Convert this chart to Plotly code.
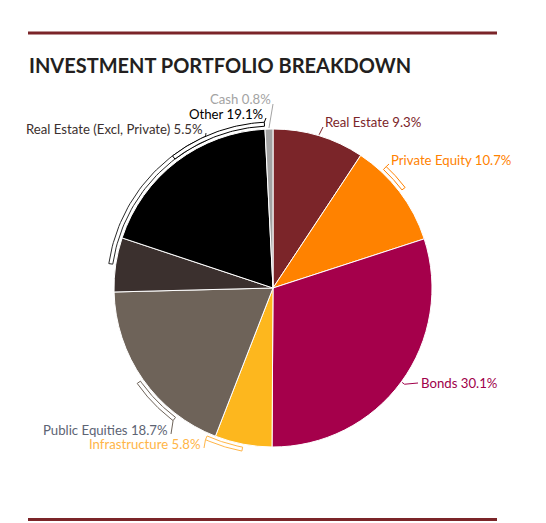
import numpy as np
import plotly.graph_objects as go

# data (clockwise from 12 o'clock)
categories = ["Real Estate", "Private Equity", "Bonds", "Infrastructure",
              "Public Equities", "Real Estate (Excl, Private)", "Other", "Cash"]
shares = [9.3, 10.7, 30.1, 5.8, 18.7, 5.5, 19.1, 0.8]

# styling
slice_colors = ["#7b2529", "#ff8200", "#a5004b", "#fdb71e",
                "#6e6359", "#3b302e", "#000000", "#a3a3a3"]
label_colors = ["#7b2529", "#ff8200", "#a0004a", "#ffb547",
                "#5d6474", "#3b302e", "#000000", "#a3a3a3"]
line_colors = ["#7b2529", "#ff8200", "#a0004a", "#ffb547",
               "#6e6359", "#2b2b2b", "#000000", "#a3a3a3"]
# label placement in pixels (anchor x, y, side) and where each bracket ends (deg)
label_pos = [(323, 122, "left"), (389, 160, "left"), (419, 383, "left"),
             (203, 444, "right"), (170, 430, "right"), (205, 129, "right"),
             (265, 114, "right"), (273, 99, "right")]
bracket_end = [None, 43, None, 204, 217, 336, 357, None]

W, H = 546, 523
CX, CY, R = 273, 288, 159
LABEL_FONT = "Lato"


def polar(angle, r):
    a = np.radians(angle)
    return CX + r * np.sin(a), CY - r * np.cos(a)


fig = go.Figure()

fig.add_trace(go.Pie(
    labels=categories,
    values=shares,
    sort=False,
    direction="clockwise",
    rotation=0,
    textinfo="none",
    hoverinfo="label+percent",
    marker=dict(colors=slice_colors, line=dict(color="white", width=1)),
    domain=dict(x=[(CX - R) / W, (CX + R) / W],
                y=[1 - (CY + R) / H, 1 - (CY - R) / H]),
    showlegend=False,
))

total = sum(shares)
cum = np.cumsum([0] + shares) / total * 360
mids = (cum[:-1] + cum[1:]) / 2

for i, name in enumerate(categories):
    lx, ly, side = label_pos[i]
    col = line_colors[i]
    mid = mids[i]
    end = bracket_end[i]
    if end is None:
        x0, y0 = polar(mid, R + 1)
        if name == "Bonds":
            xm, ym = polar(mid, R + 4)
            xs, ys = [x0, xm, lx - 1], [y0, ym, ly]
        else:
            xs, ys = [x0, lx], [y0, ly + 5]
        fig.add_trace(go.Scatter(x=xs, y=ys, mode="lines",
                                 line=dict(color=col, width=1),
                                 hoverinfo="skip", showlegend=False))
    else:
        # thin outlined ribbon hugging the rim, like the reference's brackets
        arc = np.linspace(mid, end, 40)
        ox, oy = polar(arc, R + 7)
        ix, iy = polar(arc[::-1], R + 3)
        bx = np.concatenate([ox, ix, ox[:1]])
        by = np.concatenate([oy, iy, oy[:1]])
        fig.add_trace(go.Scatter(x=bx, y=by, mode="lines", fill="toself",
                                 fillcolor="white",
                                 line=dict(color=col, width=1),
                                 hoverinfo="skip", showlegend=False))
        ex, ey = polar(end, R + 7)
        fig.add_trace(go.Scatter(x=[ex, lx + (1 if side == "right" else 0)],
                                 y=[ey, ly + 4], mode="lines",
                                 line=dict(color=col, width=1),
                                 hoverinfo="skip", showlegend=False))
    fig.add_annotation(
        x=lx, y=ly, xref="x", yref="y", xanchor=side, yanchor="middle",
        text=f"{name} {shares[i]}%", showarrow=False,
        font=dict(family=LABEL_FONT, size=13.2, color=label_colors[i]),
    )

# title and rules
fig.add_annotation(
    x=27, y=65, xref="x", yref="y", xanchor="left", yanchor="middle",
    text="<b>INVESTMENT PORTFOLIO BREAKDOWN</b>", showarrow=False,
    font=dict(family="Lato", size=20, color="#231f20"),
)
for yy in (33, 519.5):
    fig.add_shape(type="line", x0=28, x1=497, y0=yy, y1=yy, xref="x", yref="y",
                  line=dict(color="#7b2529", width=3))

fig.update_layout(
    width=W, height=H,
    margin=dict(l=0, r=0, t=0, b=0),
    paper_bgcolor="white", plot_bgcolor="rgba(0,0,0,0)",
    xaxis=dict(range=[0, W], visible=False, fixedrange=True),
    yaxis=dict(range=[H, 0], visible=False, fixedrange=True),
)

# drop the browser's default page margin so the figure sits at the window origin
fig.write_html("out.html",
               config={"displayModeBar": False},
               post_script="document.body.style.margin='0';"
                           "document.body.style.overflow='hidden';")
